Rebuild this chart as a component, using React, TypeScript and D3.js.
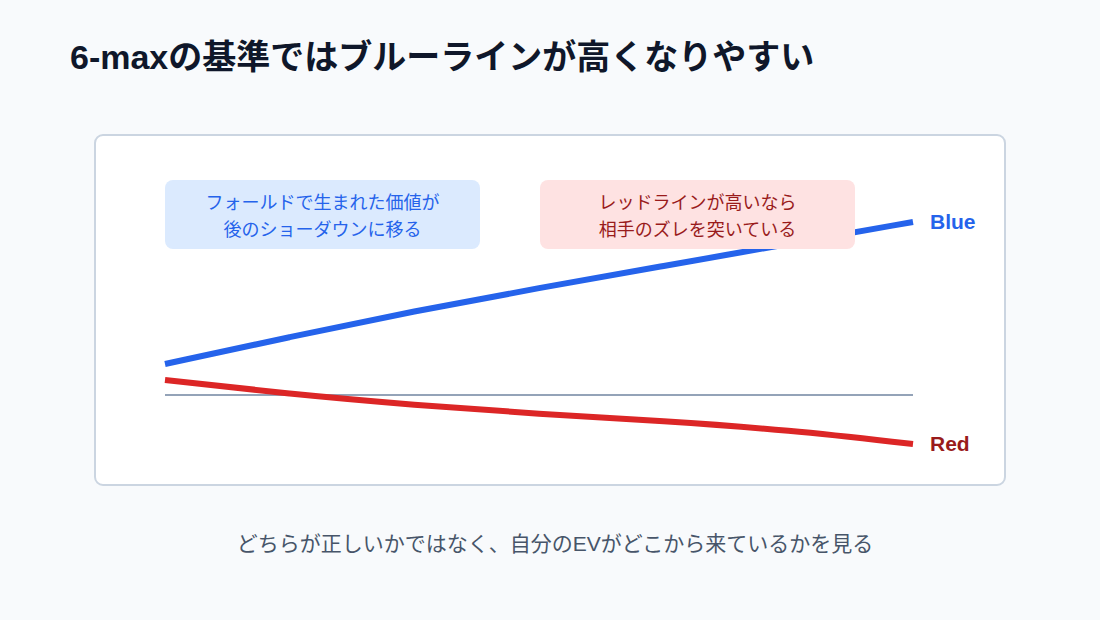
import React, { useEffect, useRef } from 'react'
import * as d3 from 'd3'

// Seven evenly spaced steps along the hand, values relative to the baseline
const steps = [0, 1, 2, 3, 4, 5, 6]
const blueValues = [3.1, 5.8, 8.4, 10.7, 12.9, 15.1, 17.3]
const redValues = [1.5, 0.1, -1.0, -1.9, -2.6, -3.5, -4.9]
const seriesNames = ['Blue', 'Red']
const titleText = '6-maxの基準ではブルーラインが高くなりやすい'
const blueNote = ['フォールドで生まれた価値が', '後のショーダウンに移る']
const redNote = ['レッドラインが高いなら', '相手のズレを突いている']
const footerText = 'どちらが正しいかではなく、自分のEVがどこから来ているかを見る'

const FONT = '"Liberation Sans", "Noto Sans CJK JP", sans-serif'

export default function App() {
  const ref = useRef<SVGSVGElement | null>(null)

  useEffect(() => {
    document.body.style.margin = '0'
    document.body.style.background = '#f8fafc'
    if (!ref.current) return
    const width = 1100
    const height = 620

    const svg = d3
      .select(ref.current)
      .attr('width', width)
      .attr('height', height)
      .attr('viewBox', [0, 0, width, height])
      .style('display', 'block')
      .style('font-family', FONT)

    svg.append('rect').attr('width', width).attr('height', height).attr('fill', '#f8fafc')

    // Title
    svg
      .append('text')
      .attr('x', 70)
      .attr('y', 69)
      .attr('font-size', 34)
      .attr('font-weight', 700)
      .attr('fill', '#0f172a')
      .text(titleText)

    // Card
    svg
      .append('rect')
      .attr('x', 95)
      .attr('y', 135)
      .attr('width', 910)
      .attr('height', 350)
      .attr('rx', 8)
      .attr('fill', '#ffffff')
      .attr('stroke', '#cbd5e1')
      .attr('stroke-width', 2)

    const x = d3.scaleLinear().domain(d3.extent(steps) as [number, number]).range([165, 913])
    const y = d3.scaleLinear().domain([0, 17.3]).range([395, 222])

    // Baseline at zero
    svg
      .append('line')
      .attr('x1', x(0))
      .attr('x2', x(6))
      .attr('y1', y(0))
      .attr('y2', y(0))
      .attr('stroke', '#94a3b8')
      .attr('stroke-width', 2)

    const line = d3
      .line<number>()
      .x((_d, i) => x(steps[i]))
      .y((d) => y(d))
      .curve(d3.curveBasis)

    const series = [
      { name: seriesNames[0], values: blueValues, color: '#2563eb', label: '#2563eb' },
      { name: seriesNames[1], values: redValues, color: '#dc2626', label: '#991b1b' },
    ]

    series.forEach((s) => {
      svg
        .append('path')
        .attr('d', line(s.values))
        .attr('fill', 'none')
        .attr('stroke', s.color)
        .attr('stroke-width', 6)
      svg
        .append('text')
        .attr('x', x(6) + 17)
        .attr('y', y(s.values[s.values.length - 1]))
        .attr('dy', '0.35em')
        .attr('font-size', 21)
        .attr('font-weight', 700)
        .attr('fill', s.label)
        .text(s.name)
    })

    // Annotation boxes
    const notes = [
      { lines: blueNote, x: 165, fill: '#dbeafe', color: '#2563eb' },
      { lines: redNote, x: 540, fill: '#fee2e2', color: '#991b1b' },
    ]
    notes.forEach((n) => {
      const g = svg.append('g').attr('transform', `translate(${n.x},180)`)
      g.append('rect').attr('width', 315).attr('height', 69).attr('rx', 8).attr('fill', n.fill)
      g.append('text')
        .attr('text-anchor', 'middle')
        .attr('font-size', 18)
        .attr('fill', n.color)
        .selectAll('tspan')
        .data(n.lines)
        .join('tspan')
        .attr('x', 157.5)
        .attr('y', (_d, i) => 29 + i * 27)
        .text((d) => d)
    })

    // Footer
    svg
      .append('text')
      .attr('x', 555)
      .attr('y', 551)
      .attr('text-anchor', 'middle')
      .attr('font-size', 21)
      .attr('fill', '#475569')
      .text(footerText)

    return () => {
      svg.selectAll('*').remove()
    }
  }, [])

  return <svg ref={ref} />
}
